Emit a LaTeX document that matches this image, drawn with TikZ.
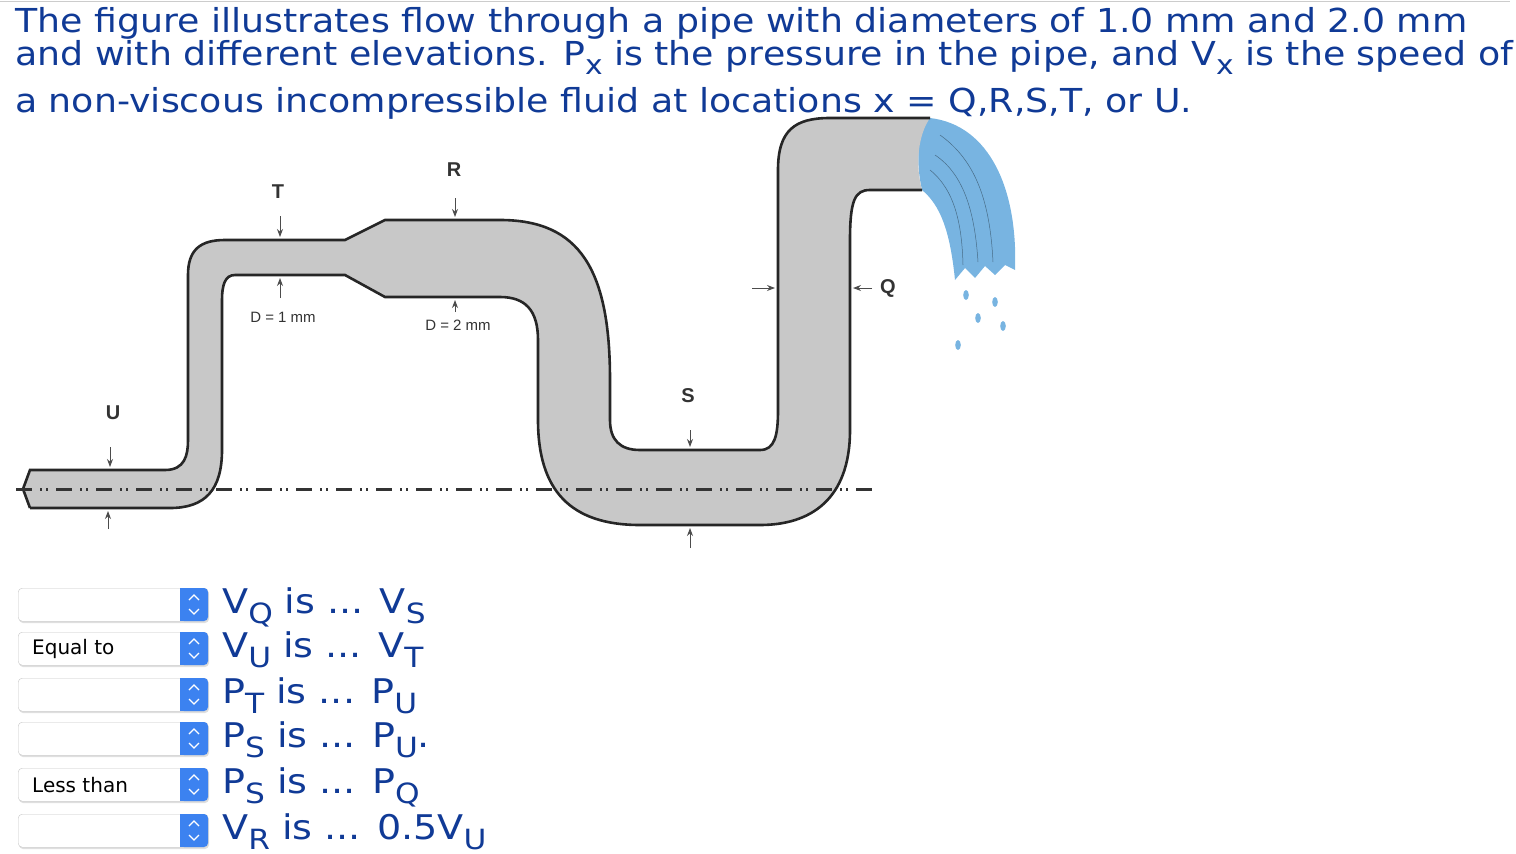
\documentclass[tikz,border=0pt]{standalone}
\usepackage{fontspec}
\setmainfont{DejaVu Sans}
\newfontfamily\lab{Liberation Sans}
\usetikzlibrary{arrows.meta}
\definecolor{qblue}{RGB}{16,58,150}
\definecolor{pipegray}{RGB}{200,200,200}
\definecolor{water}{RGB}{120,180,225}
\definecolor{btn}{RGB}{60,130,240}
\newcommand\sbx[1]{\raisebox{-0.3em}{\scalebox{0.82}{#1}}}
\tikzset{
 wall/.style={line width=2.6pt, black!85},
 marker/.style={-{Stealth[length=8pt,width=6pt]}, gray!60!black, line width=1pt},
 plab/.style={font=\lab\fontsize{20}{20}\selectfont\bfseries, text=black!80},
 dlab/.style={font=\lab\fontsize{15}{15}\selectfont, text=black!80},
 qtext/.style={font=\fontsize{33}{33}\selectfont, text=qblue, anchor=base west, inner sep=0, xscale=1.1},
 atext/.style={font=\fontsize{34}{34}\selectfont, text=qblue, anchor=base west, inner sep=0, xscale=1.12},
 sel/.style={draw=gray!45, rounded corners=4pt, fill=white, minimum width=190pt, minimum height=33pt, anchor=north west, inner sep=0},
 seltext/.style={font=\fontsize{20}{20}\selectfont, anchor=west, inner sep=0},
}
\begin{document}
\begin{tikzpicture}[x=1pt,y=-1pt]
\useasboundingbox (0,0) rectangle (1516,854);
\draw[gray!40] (0,1) -- (1510,1);
% title
\node[qtext] (t1) at (15,32) {The figure illustrates flow through a pipe with diameters of 1.0 mm and 2.0 mm};
\node[qtext] (t2) at (15,65) {and with different elevations. P\sbx{x} is the pressure in the pipe, and V\sbx{x} is the speed of};
\node[qtext] (t3) at (15,112) {a non-viscous incompressible fluid at locations x = Q,R,S,T, or U.};
% water
\fill[water] (930,118) .. controls (990,125) and (1018,190) .. (1015,270)
  -- (1005,265) -- (995,275) -- (985,266) -- (975,278) -- (965,268) -- (955,280)
  .. controls (950,230) and (940,205) .. (922,190) .. controls (915,160) and (918,130) .. (930,118) -- cycle;
\draw[water!60!black, line width=0.5pt] (940,135) .. controls (975,160) and (990,200) .. (993,262);
\draw[water!60!black, line width=0.5pt] (935,155) .. controls (965,175) and (975,215) .. (978,262);
\draw[water!60!black, line width=0.5pt] (930,170) .. controls (955,190) and (962,225) .. (963,265);
\foreach \p in {(966,295),(995,302),(978,318),(1003,326),(958,345)}
  \fill[water] \p ellipse (2.8pt and 5pt);
% pipe body
\fill[pipegray]
 (30,470) -- (165,470) .. controls (185,470) and (188,455) .. (188,440)
 -- (188,275) .. controls (188,250) and (200,240) .. (225,240) -- (345,240) -- (385,220) -- (500,220)
 .. controls (580,220) and (610,270) .. (610,380) -- (610,420) .. controls (610,440) and (620,450) .. (640,450)
 -- (760,450) .. controls (775,450) and (778,435) .. (778,410) -- (778,170) .. controls (778,130) and (795,118) .. (830,118)
 -- (930,118) .. controls (918,135) and (915,165) .. (922,190)
 -- (870,190) .. controls (855,190) and (850,200) .. (850,240) -- (850,430) .. controls (850,500) and (810,525) .. (760,525)
 -- (640,525) .. controls (570,525) and (538,490) .. (538,420) -- (538,340) .. controls (538,310) and (525,297) .. (500,297)
 -- (385,297) -- (345,275) -- (235,275) .. controls (225,275) and (222,285) .. (222,300)
 -- (222,450) .. controls (222,490) and (205,508) .. (170,508) -- (30,508) -- (23,489) -- cycle;
\draw[wall] (30,508) -- (23,489) -- (30,470) -- (165,470) .. controls (185,470) and (188,455) .. (188,440)
 -- (188,275) .. controls (188,250) and (200,240) .. (225,240) -- (345,240) -- (385,220) -- (500,220)
 .. controls (580,220) and (610,270) .. (610,380) -- (610,420) .. controls (610,440) and (620,450) .. (640,450)
 -- (760,450) .. controls (775,450) and (778,435) .. (778,410) -- (778,170) .. controls (778,130) and (795,118) .. (830,118)
 -- (930,118);
\draw[wall] (922,190) -- (870,190) .. controls (855,190) and (850,200) .. (850,240) -- (850,430) .. controls (850,500) and (810,525) .. (760,525)
 -- (640,525) .. controls (570,525) and (538,490) .. (538,420) -- (538,340) .. controls (538,310) and (525,297) .. (500,297)
 -- (385,297) -- (345,275) -- (235,275) .. controls (225,275) and (222,285) .. (222,300)
 -- (222,450) .. controls (222,490) and (205,508) .. (170,508) -- (30,508);
% centerline
\coordinate (cl1) at (16,489); \coordinate (cl2) at (878,489);
\draw[black!80, line width=3pt, dash pattern=on 16pt off 8pt on 2pt off 4pt on 2pt off 8pt] (cl1) -- (cl2);
% labels and markers
\node[plab] (U) at (113,413) {U};
\node[plab] (T) at (278,192) {T};
\node[plab] (R) at (454,170) {R};
\node[plab] (S) at (688,396) {S};
\node[plab] (Q) at (888,288) {Q};
\node[dlab] (d1) at (283,317) {D = 1 mm};
\node[dlab] (d2) at (458,325) {D = 2 mm};
\draw[marker] (110,447) -- (110,467);
\draw[marker] (108,529) -- (108,511);
\draw[marker] (280,216) -- (280,237);
\draw[marker] (280,298) -- (280,278);
\draw[marker] (455,198) -- (455,217);
\draw[marker] (455,312) -- (455,300);
\draw[marker] (690,430) -- (690,447);
\draw[marker] (690,548) -- (690,528);
\draw[marker] (752,288) -- (775,288);
\draw[marker] (872,288) -- (853,288);
% questions
\foreach \y/\txt/\q [count=\i] in {
 588//{V\sbx{Q} is ... V\sbx{S}},
 632/Equal to/{V\sbx{U} is ... V\sbx{T}},
 678//{P\sbx{T} is ... P\sbx{U}},
 722//{P\sbx{S} is ... P\sbx{U}.},
 768/Less than/{P\sbx{S} is ... P\sbx{Q}},
 814//{V\sbx{R} is ... 0.5V\sbx{U}}}{
  \fill[gray!25, rounded corners=4pt] (19,\y+2) rectangle (209,\y+35);
  \node[sel] (s\i) at (18,\y) {};
  \fill[btn, rounded corners=4pt] (180,\y) rectangle (208,\y+33);
  \fill[btn] (180,\y) rectangle (190,\y+33);
  \draw[white, line width=1.3pt] (189,\y+12) -- (194,\y+7) -- (199,\y+12) (189,\y+21) -- (194,\y+26) -- (199,\y+21);
  \node[seltext] (st\i) at (32,\y+17) {\txt};
  \node[atext] (q\i) at (222,\y+25) {\q};
}
\end{tikzpicture}
\end{document}
